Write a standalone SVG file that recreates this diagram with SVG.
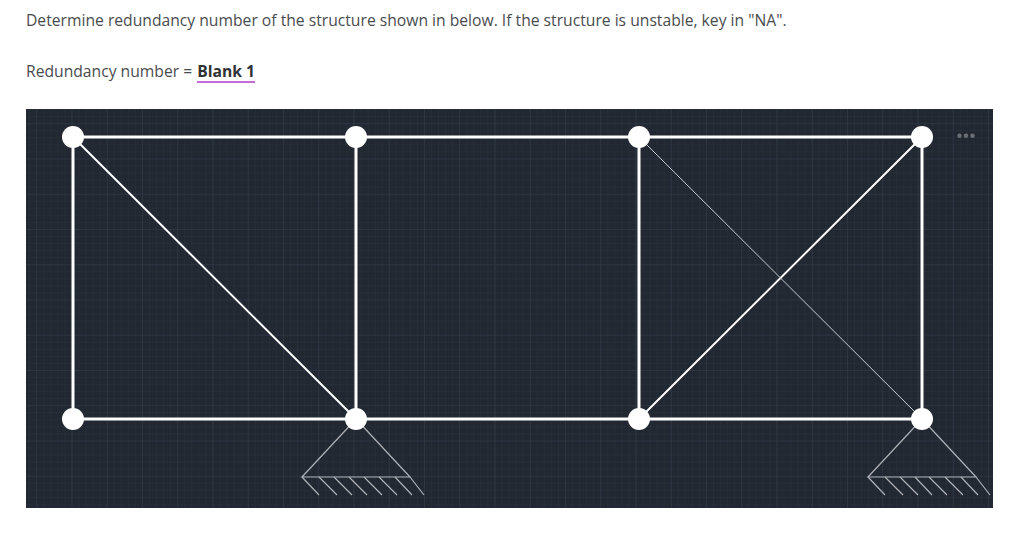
<svg xmlns="http://www.w3.org/2000/svg" width="1017" height="535" viewBox="0 0 1017 535">
<defs>
<pattern id="minor" x="1" y="3.400" width="7.05" height="7.05" patternUnits="userSpaceOnUse"><path d="M0 0V7.05M0 0H7.05" fill="none" stroke="#2a313c" stroke-width="1"/></pattern>
<pattern id="major" x="1" y="17.500" width="35.25" height="35.25" patternUnits="userSpaceOnUse"><path d="M0 0V35.25M0 0H35.25" fill="none" stroke="#343c49" stroke-width="1"/></pattern>
</defs>
<style>
text{font-family:"Open Sans","Noto Sans","Liberation Sans",sans-serif;font-size:15.68px;fill:#494c4e}
.b{font-weight:700;fill:#303336}
.m{stroke:#fff;stroke-width:3;fill:none}
.t{stroke:#fff;stroke-width:2;fill:none}
.f{stroke:#c9ccd0;stroke-width:1;fill:none}
.s{stroke:#aeb2b7;stroke-width:1.2;fill:none}
.n{fill:#fff}
.d{fill:#6b6f75}
</style>
<rect width="1017" height="535" fill="#fff"/>
<text x="26" y="26">Determine redundancy number of the structure shown in below. If the structure is unstable, key in "NA".</text>
<text x="26" y="77">Redundancy number = <tspan class="b" dx="1">Blank 1</tspan></text>
<rect x="197" y="81" width="58" height="2" fill="#c56ad6"/>
<g id="canvas">
<rect x="26" y="109" width="967" height="399" fill="#212832"/>
<rect x="26" y="109" width="967" height="399" fill="url(#minor)"/>
<rect x="26" y="109" width="967" height="399" fill="url(#major)"/>
<circle class="d" cx="959.500" cy="135.700" r="2.200"/><circle class="d" cx="966" cy="135.700" r="2.200"/><circle class="d" cx="972.500" cy="135.700" r="2.200"/>
</g>
<g id="connectors">
<path class="m" d="M73 137H922M73 419H922M73 137V419M356 137V419M639 137V419M922 137V419"/>
<path class="t" d="M73 137L356 419M639 419L922 137"/>
<path class="f" d="M639 137L922 419"/>
</g>
<g id="support-1">
<path class="s" d="M356 419L302 477L410 477Z"/>
<path class="s" d="M302 477L319 495M319 477L337 495M334 477L352 495M349 477L367 495M364 477L382 495M379 477L397 495M395 477L412 495M410 477L424 495"/>
</g>
<g id="support-2">
<path class="s" d="M922 419L868 477L976 477Z"/>
<path class="s" d="M868 477L885 495M885 477L903 495M900 477L918 495M915 477L932 495M929 477L947 495M945 477L963 495M961 477L978 495M976 477L990 495"/>
</g>
<g id="node-a"><circle class="n" cx="73" cy="137" r="11"/></g>
<g id="node-b"><circle class="n" cx="356" cy="137" r="11"/></g>
<g id="node-c"><circle class="n" cx="639" cy="137" r="11"/></g>
<g id="node-d"><circle class="n" cx="922" cy="137" r="11"/></g>
<g id="node-e"><circle class="n" cx="73" cy="419" r="11"/></g>
<g id="node-f"><circle class="n" cx="356" cy="419" r="11"/></g>
<g id="node-g"><circle class="n" cx="639" cy="419" r="11"/></g>
<g id="node-h"><circle class="n" cx="922" cy="419" r="11"/></g>
</svg>
